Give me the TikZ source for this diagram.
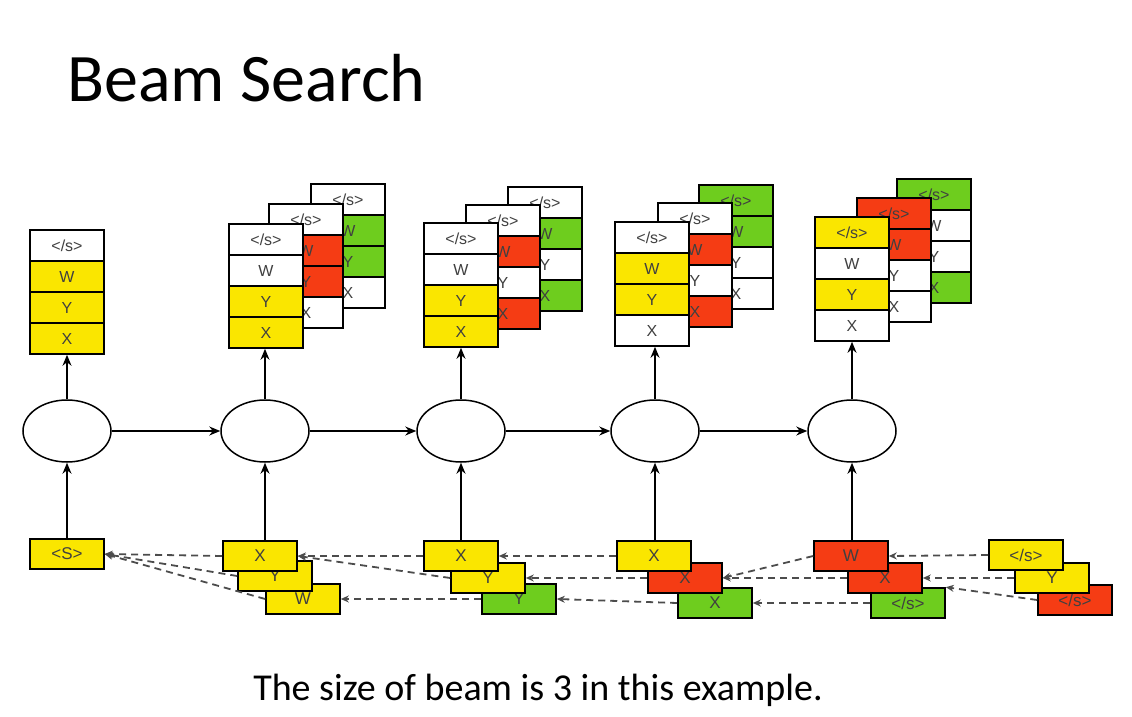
\documentclass[tikz,border=0pt]{standalone}
\usepackage{fontspec}
\setmainfont{Carlito}
\setsansfont{Liberation Sans}
\usetikzlibrary{shapes.geometric,arrows.meta}
\definecolor{cy}{RGB}{250,230,0}
\definecolor{cr}{RGB}{245,60,20}
\definecolor{cg}{RGB}{110,205,30}
\definecolor{cw}{RGB}{255,255,255}
\tikzset{
 cell/.style={draw=black,line width=1.6pt,minimum width=74pt,minimum height=31pt,inner sep=0pt,font=\sffamily\fontsize{16}{16}\selectfont,text=black!75},
 bbox/.style={draw=black,line width=1.6pt,minimum width=74pt,minimum height=30pt,inner sep=0pt,font=\sffamily\fontsize{17}{17}\selectfont,text=black!75},
 rnn/.style={ellipse,draw=black,line width=1.5pt,minimum width=88pt,minimum height=62pt,fill=white},
 arr/.style={-{Stealth[length=11pt,width=9pt]},line width=1.3pt},
 darr/.style={-{Stealth[length=8pt,width=7pt]},line width=1.8pt,dashed,dash pattern=on 7pt off 5pt,black!70}
}
\newcommand{\mystack}[7]{%
 \node[cell,fill=#4] (#1a) at (#2,#3+15.5) {</s>};
 \node[cell,fill=#5] (#1b) at (#2,#3+46.5) {W};
 \node[cell,fill=#6] (#1c) at (#2,#3+77.5) {Y};
 \node[cell,fill=#7] (#1d) at (#2,#3+108.5) {X};}
\begin{document}
\begin{tikzpicture}[x=1pt,y=-1pt]
\useasboundingbox (0,0) rectangle (1132,717);
\node[anchor=west,font=\fontsize{68}{68}\selectfont] (title) at (64,78) {Beam Search};
\node[font=\fontsize{38}{38}\selectfont] (cap) at (538,690) {The size of beam is 3 in this example.};
% stacks
\mystack{s1}{67}{230}{cw}{cy}{cy}{cy}
\mystack{s2c}{348}{184}{cw}{cg}{cg}{cw}
\mystack{s2b}{306}{204}{cw}{cr}{cr}{cw}
\mystack{s2a}{266}{224}{cw}{cw}{cy}{cy}
\mystack{s3c}{545}{187}{cw}{cg}{cw}{cg}
\mystack{s3b}{503}{205}{cw}{cr}{cw}{cr}
\mystack{s3a}{461}{223}{cw}{cw}{cy}{cy}
\mystack{s4c}{736}{185}{cg}{cg}{cw}{cw}
\mystack{s4b}{695}{203}{cw}{cr}{cw}{cr}
\mystack{s4a}{652}{222}{cw}{cy}{cy}{cw}
\mystack{s5c}{934}{179}{cg}{cw}{cw}{cg}
\mystack{s5b}{894}{198}{cr}{cr}{cw}{cw}
\mystack{s5a}{852}{217}{cy}{cw}{cy}{cw}
% rnn cells
\node[rnn] (e1) at (67,431) {};
\node[rnn] (e2) at (265,431) {};
\node[rnn] (e3) at (461,431) {};
\node[rnn] (e4) at (655,431) {};
\node[rnn] (e5) at (852,431) {};
\foreach \a/\b in {e1/e2,e2/e3,e3/e4,e4/e5} \draw[arr] (\a) -- (\b);
\draw[arr] (e1.north) -- (e1.north |- s1d.south);
\draw[arr] (e2.north) -- (e2.north |- s2ad.south);
\draw[arr] (e3.north) -- (e3.north |- s3ad.south);
\draw[arr] (e4.north) -- (e4.north |- s4ad.south);
\draw[arr] (e5.north) -- (e5.north |- s5ad.south);
% bottom boxes
\node[bbox,fill=cy] (b1) at (67,554) {<S>};
\node[bbox,fill=cy] (b2c) at (303,599) {W};
\node[bbox,fill=cy] (b2b) at (275,576) {Y};
\node[bbox,fill=cy] (b2a) at (260,556) {X};
\node[bbox,fill=cg] (b3c) at (519,599) {Y};
\node[bbox,fill=cy] (b3b) at (488,578) {Y};
\node[bbox,fill=cy] (b3a) at (461,556) {X};
\node[bbox,fill=cg] (b4c) at (715,603) {X};
\node[bbox,fill=cr] (b4b) at (685,578) {X};
\node[bbox,fill=cy] (b4a) at (654,556) {X};
\node[bbox,fill=cg] (b5c) at (908,603) {</s>};
\node[bbox,fill=cr] (b5b) at (885,578) {X};
\node[bbox,fill=cr] (b5a) at (851,556) {W};
\node[bbox,fill=cr] (b6c) at (1075,600) {</s>};
\node[bbox,fill=cy] (b6b) at (1052,578) {Y};
\node[bbox,fill=cy] (b6a) at (1026,555) {</s>};
\draw[arr] (b1.north) -- (b1.north |- e1.south);
\draw[arr] (b2a.north -| e2.south) -- (e2.south);
\draw[arr] (b3a.north -| e3.south) -- (e3.south);
\draw[arr] (b4a.north -| e4.south) -- (e4.south);
\draw[arr] (b5a.north -| e5.south) -- (e5.south);
% dashed back-pointers
\draw[darr] (b2a.west) -- (b1.east);
\draw[darr] (b2b.west) -- (b1.east);
\draw[darr] (b2c.west) -- (b1.east);
\draw[darr] (b3a.west) -- (b2a.east);
\draw[darr] (b3b.west) -- (b2a.east);
\draw[darr] (b3c.west) -- (b2c.east);
\draw[darr] (b4a.west) -- (b3a.east);
\draw[darr] (b4b.west) -- (b3b.east);
\draw[darr] (b4c.west) -- (b3c.east);
\draw[darr] (b5a.west) -- (b4b.east);
\draw[darr] (b5b.west) -- (b4b.east);
\draw[darr] (b5c.west) -- (b4c.east);
\draw[darr] (b6a.west) -- (b5a.east);
\draw[darr] (b6b.west) -- (b5b.east);
\draw[darr] (b6c.west) -- (b5c.north east);
\end{tikzpicture}
\end{document}
